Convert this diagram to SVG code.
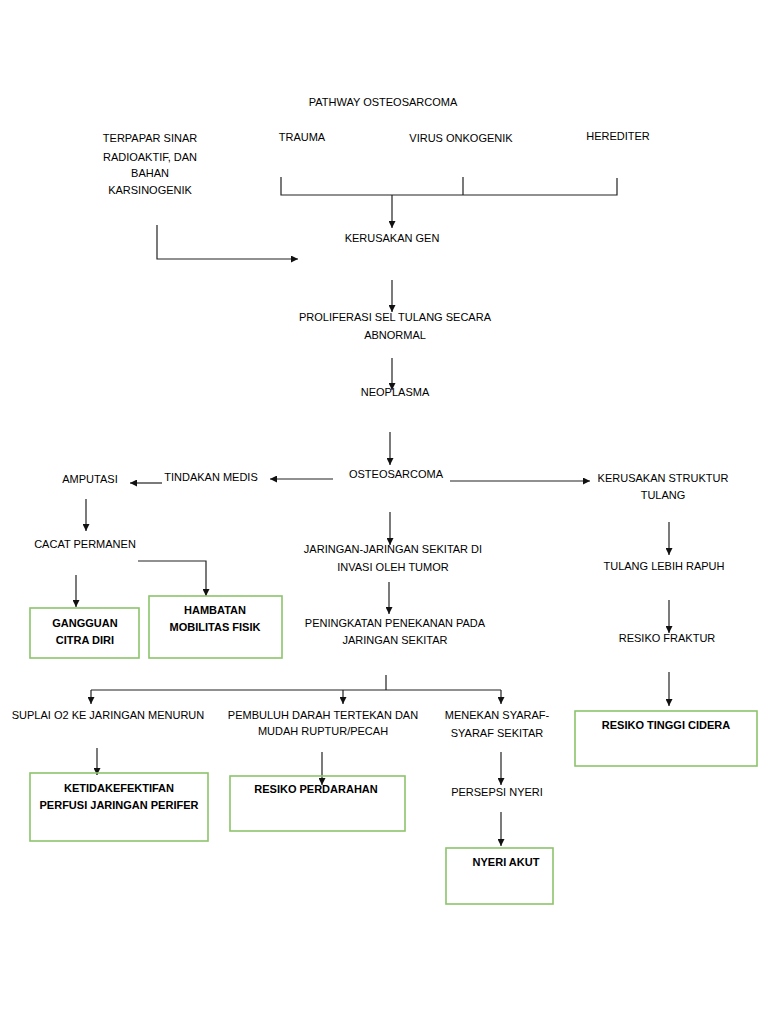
<svg xmlns="http://www.w3.org/2000/svg" width="768" height="1024" viewBox="0 0 768 1024">
<defs>
<marker id="ah" viewBox="0 0 10 10" refX="10" refY="5" markerWidth="7" markerHeight="7" markerUnits="userSpaceOnUse" orient="auto">
<path d="M0,0 L10,5 L0,10 z" fill="#111"/>
</marker>
</defs>
<style>
text{font-family:"Liberation Sans",Arial,sans-serif;font-size:11px;fill:#000;text-anchor:middle}
.b{font-weight:bold}
.ln{stroke:#222;stroke-width:1.2;fill:none}
.ar{stroke:#222;stroke-width:1.2;fill:none;marker-end:url(#ah)}
.box{fill:none;stroke:#8cc46c;stroke-width:1.6}
</style>
<rect width="768" height="1024" fill="#fff"/>

<g id="connectors">
<path class="ln" d="M281,177 V195 H617 V178 M463,177 V195"/>
<path class="ar" d="M392,195 V228"/>
<path class="ar" d="M157,225 V259 H298"/>
<path class="ar" d="M392,280 V312"/>
<path class="ar" d="M392,358 V390"/>
<path class="ar" d="M390,432 V465"/>
<path class="ar" d="M333,479 H270"/>
<path class="ar" d="M162,483 H130"/>
<path class="ar" d="M450,481 H590"/>
<path class="ar" d="M86,499 V531"/>
<path class="ar" d="M76,575 V607"/>
<path class="ar" d="M138,561 H206 V596"/>
<path class="ar" d="M390,512 V545"/>
<path class="ar" d="M389,582 V614"/>
<path class="ln" d="M386,675 V690 M91,690 H501"/>
<path class="ar" d="M91,690 V704"/>
<path class="ar" d="M343,690 V704"/>
<path class="ar" d="M501,690 V704"/>
<path class="ar" d="M97,748 V775"/>
<path class="ar" d="M322,752 V785"/>
<path class="ar" d="M501,752 V785"/>
<path class="ar" d="M501,812 V846"/>
<path class="ar" d="M669,522 V555"/>
<path class="ar" d="M669,600 V633"/>
<path class="ar" d="M669,672 V706"/>
</g>

<g id="title"><text x="383" y="106">PATHWAY OSTEOSARCOMA</text></g>
<g id="n-terpapar"><text x="150" y="142">TERPAPAR SINAR</text><text x="150" y="161">RADIOAKTIF, DAN</text><text x="150" y="177">BAHAN</text><text x="150" y="194">KARSINOGENIK</text></g>
<g id="n-trauma"><text x="302" y="141">TRAUMA</text></g>
<g id="n-virus"><text x="461" y="142">VIRUS ONKOGENIK</text></g>
<g id="n-herediter"><text x="618" y="140">HEREDITER</text></g>
<g id="n-kerusakan-gen"><text x="392" y="242">KERUSAKAN GEN</text></g>
<g id="n-proliferasi"><text x="395" y="321">PROLIFERASI SEL TULANG SECARA</text><text x="395" y="339">ABNORMAL</text></g>
<g id="n-neoplasma"><text x="395" y="396">NEOPLASMA</text></g>
<g id="n-osteosarcoma"><text x="396" y="478">OSTEOSARCOMA</text></g>
<g id="n-tindakan"><text x="211" y="481">TINDAKAN MEDIS</text></g>
<g id="n-amputasi"><text x="90" y="483">AMPUTASI</text></g>
<g id="n-cacat"><text x="85" y="548">CACAT PERMANEN</text></g>
<g id="n-gangguan"><rect class="box" x="30" y="608" width="109" height="50"/><text class="b" x="85" y="627">GANGGUAN</text><text class="b" x="85" y="644">CITRA DIRI</text></g>
<g id="n-hambatan"><rect class="box" x="149" y="596" width="133" height="62"/><text class="b" x="215" y="614">HAMBATAN</text><text class="b" x="215" y="631">MOBILITAS FISIK</text></g>
<g id="n-kerusakan-struktur"><text x="663" y="482">KERUSAKAN STRUKTUR</text><text x="663" y="499">TULANG</text></g>
<g id="n-jaringan"><text x="393" y="553">JARINGAN-JARINGAN SEKITAR DI</text><text x="393" y="571">INVASI OLEH TUMOR</text></g>
<g id="n-peningkatan"><text x="395" y="627">PENINGKATAN PENEKANAN PADA</text><text x="395" y="644">JARINGAN SEKITAR</text></g>
<g id="n-tulang-rapuh"><text x="664" y="570">TULANG LEBIH RAPUH</text></g>
<g id="n-fraktur"><text x="667" y="642">RESIKO FRAKTUR</text></g>
<g id="n-cidera"><rect class="box" x="575" y="711" width="182" height="55"/><text class="b" x="666" y="729">RESIKO TINGGI CIDERA</text></g>
<g id="n-suplai"><text x="108" y="719">SUPLAI O2 KE JARINGAN MENURUN</text></g>
<g id="n-pembuluh"><text x="323" y="719">PEMBULUH DARAH TERTEKAN DAN</text><text x="323" y="735">MUDAH RUPTUR/PECAH</text></g>
<g id="n-menekan"><text x="497" y="719">MENEKAN SYARAF-</text><text x="497" y="737">SYARAF SEKITAR</text></g>
<g id="n-perfusi"><rect class="box" x="30" y="773" width="178" height="68"/><text class="b" x="119" y="792">KETIDAKEFEKTIFAN</text><text class="b" x="119" y="809">PERFUSI JARINGAN PERIFER</text></g>
<g id="n-perdarahan"><rect class="box" x="230" y="776" width="175" height="55"/><text class="b" x="316" y="793">RESIKO PERDARAHAN</text></g>
<g id="n-persepsi"><text x="497" y="796">PERSEPSI NYERI</text></g>
<g id="n-nyeri"><rect class="box" x="446" y="848" width="107" height="56"/><text class="b" x="506" y="866">NYERI AKUT</text></g>
</svg>
